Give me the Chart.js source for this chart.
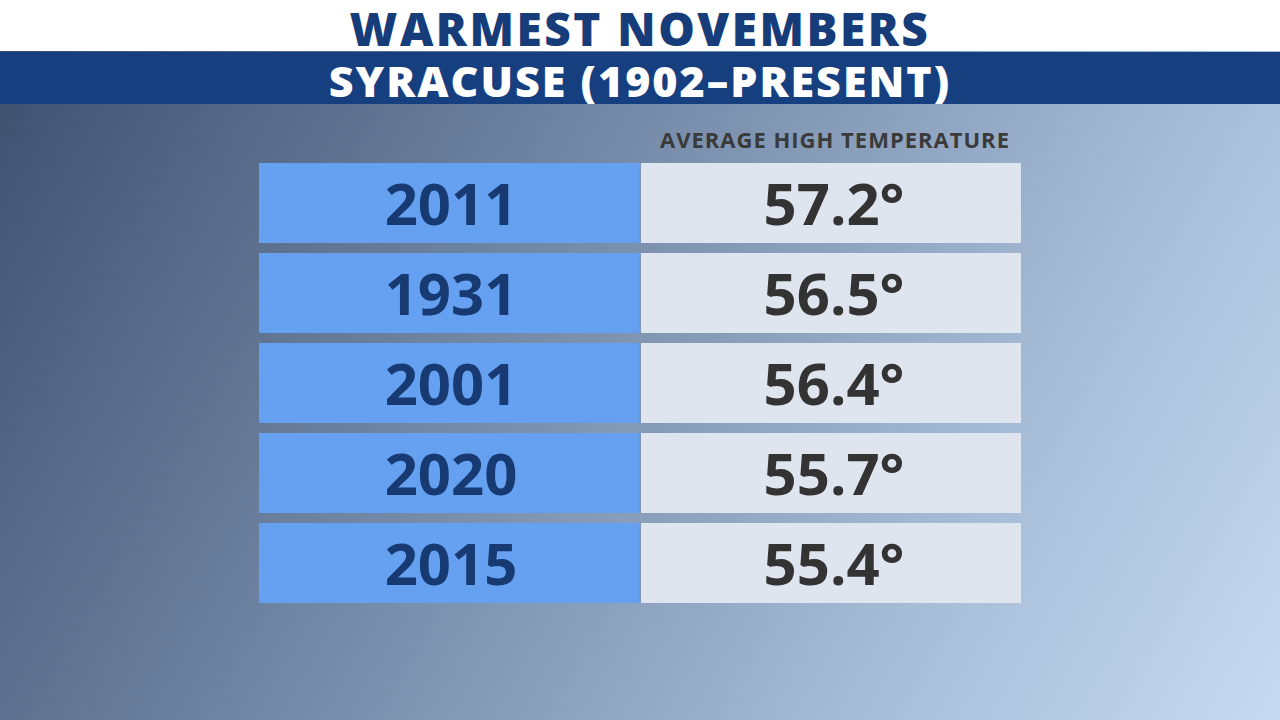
<!DOCTYPE html>
<html><head><meta charset="utf-8">
<script src="https://cdn.jsdelivr.net/npm/chart.js@4"></script>
<style>
body{margin:0;width:1280px;height:720px;overflow:hidden;font-family:"Open Sans",Lato,sans-serif;
background:linear-gradient(120deg,#3c4d6c 0%,#7388a6 40%,#a7bcd7 75%,#c6daf1 100%);position:relative}
#t1{position:absolute;left:0;top:0;width:1280px;height:51px;background:#fff;color:#163d7a;font-weight:800;font-size:46px;text-align:center;line-height:56px;letter-spacing:2.5px}
#t2{position:absolute;left:0;top:52px;width:1280px;height:52px;background:#163f7f;color:#fff;font-weight:800;font-size:43px;text-align:center;line-height:58px;letter-spacing:2px}
#sub{position:absolute;left:635px;width:400px;top:124px;color:#3a3a3a;font-weight:700;font-size:22px;text-align:center;letter-spacing:1px}
canvas{position:absolute;left:0;top:0}
</style></head><body>
<div id="t1">WARMEST NOVEMBERS</div>
<div id="t2">SYRACUSE (1902–PRESENT)</div>
<div id="sub">AVERAGE HIGH TEMPERATURE</div>
<canvas id="c" width="1280" height="720"></canvas>
<script>
const years = ['2011', '1931', '2001', '2020', '2015'];
const temps = [57.2, 56.5, 56.4, 55.7, 55.4];
const yearCell = [380, 380, 380, 380, 380];
const tempCell = [382, 382, 382, 382, 382];

const cellText = {
  id: 'cellText',
  afterDatasetsDraw(chart) {
    const ctx = chart.ctx;
    ctx.save();
    ctx.textAlign = 'center';
    ctx.textBaseline = 'middle';
    ctx.font = '700 58px "Open Sans", Lato, sans-serif';
    chart.getDatasetMeta(0).data.forEach((bar, i) => {
      ctx.fillStyle = '#173a72';
      ctx.fillText(years[i], (bar.base + bar.x) / 2 + 2, bar.y + 5);
    });
    chart.getDatasetMeta(1).data.forEach((bar, i) => {
      ctx.fillStyle = '#333333';
      ctx.fillText(temps[i].toFixed(1) + '°', (bar.base + bar.x) / 2 + 4, bar.y + 5);
    });
    ctx.restore();
  }
};

new Chart(document.getElementById('c').getContext('2d'), {
  type: 'bar',
  data: {
    labels: years,
    datasets: [
      { data: yearCell, backgroundColor: '#66a0f0', barPercentage: 1, categoryPercentage: 80/90 },
      { data: tempCell, backgroundColor: '#dfe5ee', barPercentage: 1, categoryPercentage: 80/90,
        borderWidth: { left: 2 }, borderColor: '#7f95b4', borderSkipped: false }
    ]
  },
  options: {
    indexAxis: 'y',
    responsive: false,
    animation: false,
    layout: { padding: { left: 259, right: 259, top: 158, bottom: 112 } },
    scales: {
      x: { stacked: true, display: false, min: 0, max: 762 },
      y: { stacked: true, display: false }
    },
    plugins: { legend: { display: false }, tooltip: { enabled: false } }
  },
  plugins: [cellText]
});
</script>
</body></html>
